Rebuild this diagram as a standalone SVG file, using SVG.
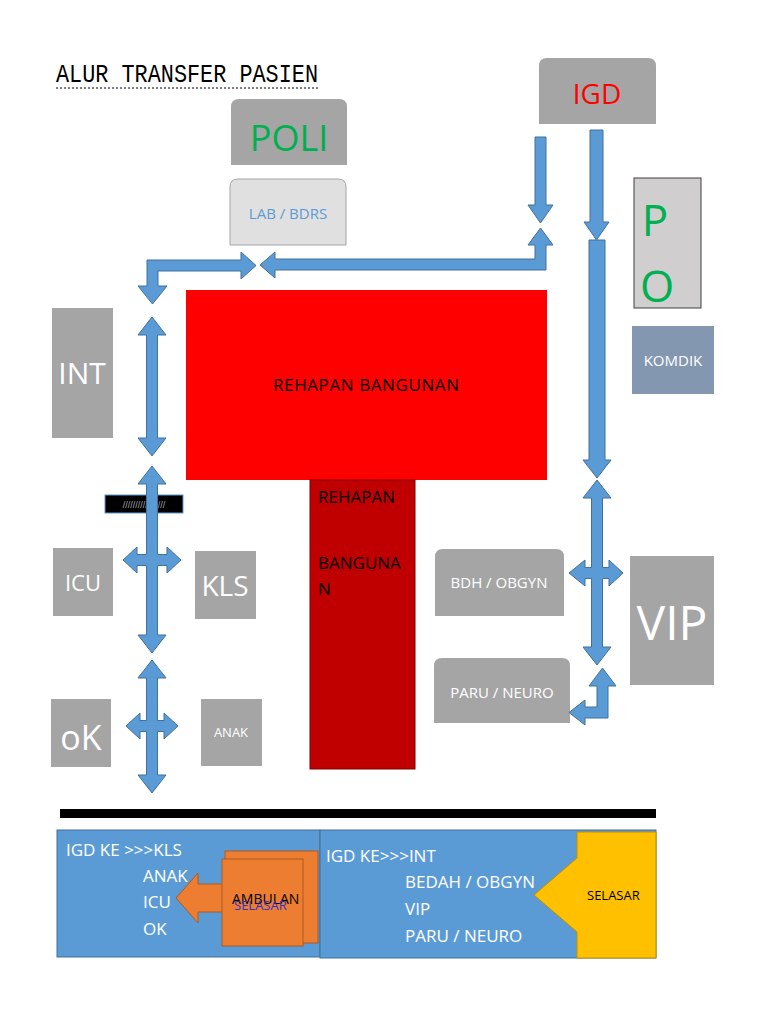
<svg xmlns="http://www.w3.org/2000/svg" width="768" height="1024" viewBox="0 0 768 1024">
<style>
.g{fill:#a5a5a5}
.w{fill:#fff;font-family:"Open Sans","Liberation Sans",sans-serif}
.a{fill:#5b9bd5;stroke:#41719c;stroke-width:1}
.t{font-family:"Open Sans","Liberation Sans",sans-serif}
</style>
<rect width="768" height="1024" fill="#fff"/>
<g id="title"><text x="56" y="82" font-family="Liberation Mono,monospace" font-size="25" fill="#000" textLength="262" lengthAdjust="spacingAndGlyphs">ALUR TRANSFER PASIEN</text><line x1="56" y1="88" x2="318" y2="88" stroke="#000" stroke-dasharray="2,2"/></g>
<g id="igd"><path class="g" d="M539,124V66q0-8 8-8h101q8,0 8,8v58z"/><text x="597" y="104" text-anchor="middle" class="t" font-size="28" fill="#f00">IGD</text></g>
<g id="poli"><path class="g" d="M231,165V107q0-8 8-8h100q8,0 8,8v58z"/><text x="289" y="151" text-anchor="middle" class="t" font-size="36" fill="#00b050">POLI</text></g>
<g id="lab"><path d="M230,245V187q0-8 8-8h100q8,0 8,8v58z" fill="#e0e0e0" stroke="#a5a5a5"/><text x="288" y="219" text-anchor="middle" class="t" font-size="15" fill="#5b9bd5">LAB / BDRS</text></g>
<g id="po"><rect x="634" y="178" width="67" height="130" fill="#d0cece" stroke="#404040"/><text x="655" y="236" text-anchor="middle" class="t" font-size="44" fill="#00b050">P</text><text x="657" y="302" text-anchor="middle" class="t" font-size="44" fill="#00b050">O</text></g>
<g id="komdik"><rect x="632" y="326" width="82" height="68" fill="#8497b0"/><text x="673" y="366" text-anchor="middle" class="w" font-size="15">KOMDIK</text></g>
<g id="int"><rect class="g" x="52" y="308" width="61" height="130"/><text x="82" y="384" text-anchor="middle" class="w" font-size="30">INT</text></g>
<g id="rehapan1"><rect x="186" y="290" width="361" height="190" fill="#f00"/><text x="366" y="391" text-anchor="middle" class="t" font-size="17" fill="#000" textLength="186">REHAPAN BANGUNAN</text></g>
<g id="rehapan2"><rect x="310" y="480" width="105" height="289" fill="#c00000" stroke="#7f0000"/><text x="318" y="503" class="t" font-size="17" fill="#000">REHAPAN</text><text x="318" y="569" class="t" font-size="17" fill="#000">BANGUNA</text><text x="318" y="595" class="t" font-size="17" fill="#000">N</text></g>
<g id="barrier"><rect x="105" y="495" width="78" height="18" fill="#000" stroke="#5b9bd5"/><text x="144" y="508" text-anchor="middle" font-family="Liberation Sans,sans-serif" font-size="9" fill="#aaa">/////////////////</text></g>
<g id="icu"><rect class="g" x="53" y="548" width="60" height="68"/><text x="83" y="591" text-anchor="middle" class="w" font-size="22">ICU</text></g>
<g id="kls"><rect class="g" x="195" y="551" width="61" height="68"/><text x="225" y="596" text-anchor="middle" class="w" font-size="28">KLS</text></g>
<g id="ok"><rect class="g" x="51" y="699" width="60" height="68"/><text x="81" y="750" text-anchor="middle" class="w" font-size="34">oK</text></g>
<g id="anak"><rect class="g" x="201" y="699" width="61" height="67"/><text x="231" y="737" text-anchor="middle" class="w" font-size="13">ANAK</text></g>
<g id="bdh"><path class="g" d="M435,616V557q0-8 8-8h113q8,0 8,8v59z"/><text x="499" y="588" text-anchor="middle" class="w" font-size="15">BDH / OBGYN</text></g>
<g id="paru"><path class="g" d="M434,723V666q0-8 8-8h120q8,0 8,8v57z"/><text x="502" y="698" text-anchor="middle" class="w" font-size="15">PARU / NEURO</text></g>
<g id="vip"><rect class="g" x="630" y="556" width="84" height="129"/><text x="672" y="640" text-anchor="middle" class="w" font-size="48">VIP</text></g>
<g id="connectors">
<polygon class="a" points="535,137 546,137 546,205 553,205 540.5,223 528,205 535,205"/>
<polygon class="a" points="260,265 275,252 275,259 535,259 535,245 528,245 540.5,228 553,245 546,245 546,270 275,270 275,278"/>
<polygon class="a" points="147,260 241,260 241,252 256,265.5 241,279 241,271 158,271 158,286 167,286 152.5,304 138,286 147,286"/>
<polygon class="a" points="152,317 166,335 157.5,335 157.5,438 166,438 152,456 138,438 146.5,438 146.5,335 138,335"/>
<polygon class="a" points="152,466 166,484 157.5,484 157.5,554.5 167,554.5 167,547 181,560 167,573 167,565.5 157.5,565.5 157.5,635 166,635 152,653 138,635 146.5,635 146.5,565.5 137,565.5 137,573 123,560 137,547 137,554.5 146.5,554.5 146.5,484 138,484"/>
<polygon class="a" points="152,660 166,678 157.5,678 157.5,720.5 164,720.5 164,713 178,726 164,739 164,731.5 157.5,731.5 157.5,775 166,775 152,793 138,775 146.5,775 146.5,731.5 140,731.5 140,739 126,726 140,713 140,720.5 146.5,720.5 146.5,678 138,678"/>
<polygon class="a" points="590,130 603,130 603,222 609,222 596.5,240 584,222 590,222"/>
<polygon class="a" points="589,240 605,240 605,460 611,460 597,478 583,460 589,460"/>
<polygon class="a" points="597,480 611,498 602.5,498 602.5,567.5 609,567.5 609,560 623,573 609,586 609,578.5 602.5,578.5 602.5,647 611,647 597,665 583,647 591.5,647 591.5,578.5 585,578.5 585,586 569,573 585,560 585,567.5 591.5,567.5 591.5,498 583,498"/>
<polygon class="a" points="602.5,668 616,686 608,686 608,718 585,718 585,725 569,712.5 585,700 585,707 597,707 597,686 589,686"/>
</g>
<g id="divider"><rect x="60" y="809" width="596" height="9" fill="#000"/></g>
<g id="legend-left"><rect x="57" y="830" width="263" height="127" fill="#5b9bd5" stroke="#41719c"/>
<text x="66" y="856" class="w" font-size="17">IGD KE &gt;&gt;&gt;KLS</text><text x="143" y="882" class="w" font-size="17">ANAK</text><text x="143" y="908" class="w" font-size="17">ICU</text><text x="143" y="935" class="w" font-size="17">OK</text>
<polygon points="176,898 198,873 198,884 230,884 230,912 198,912 198,923" fill="#ed7d31" stroke="#ae5a21"/>
<rect x="225" y="851" width="93" height="92" fill="#ed7d31" stroke="#ae5a21"/>
<rect x="222" y="859" width="81" height="87" fill="#ed7d31" stroke="#ae5a21"/>
<text x="232" y="904" class="t" font-size="14" fill="#000">AMBULAN</text><text x="234" y="910" class="t" font-size="13" fill="#3333cc">SELASAR</text></g>
<g id="legend-right"><rect x="320" y="830" width="336" height="128" fill="#5b9bd5" stroke="#41719c"/>
<text x="326" y="862" class="w" font-size="17">IGD KE&gt;&gt;&gt;INT</text><text x="405" y="888" class="w" font-size="17">BEDAH / OBGYN</text><text x="405" y="915" class="w" font-size="17">VIP</text><text x="405" y="942" class="w" font-size="17">PARU / NEURO</text>
<polygon points="534,895 577,858 577,832 656,832 656,958 577,958 577,932" fill="#ffc000" stroke="#bf9000"/>
<text x="587" y="900" class="t" font-size="13" fill="#000">SELASAR</text></g>
</svg>
